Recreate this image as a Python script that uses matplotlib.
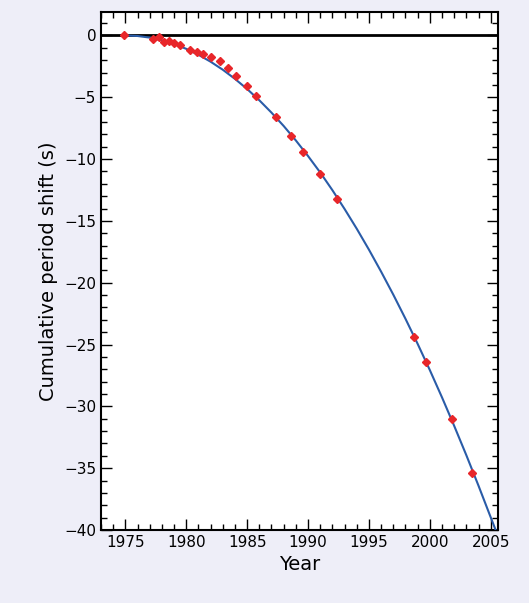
import matplotlib
matplotlib.use("Agg")
import matplotlib.pyplot as plt
from matplotlib.ticker import MultipleLocator

# observed points (year, cumulative shift s)
obs_year = [1974.9, 1977.3, 1977.8, 1978.2, 1978.6, 1979.0, 1979.5, 1980.3, 1980.9,
            1981.4, 1982.0, 1982.8, 1983.4, 1984.1, 1985.0, 1985.7, 1987.4, 1988.6,
            1989.6, 1991.0, 1992.4, 1998.7, 1999.7, 2001.8, 2003.5]
obs_shift = [0.05, -0.3, -0.1, -0.5, -0.45, -0.6, -0.75, -1.2, -1.35,
             -1.5, -1.7, -2.1, -2.6, -3.3, -4.1, -4.9, -6.6, -8.1,
             -9.4, -11.2, -13.2, -24.4, -26.4, -31.0, -35.4]

curve_year = list(range(1975, 2006)) + [2005.6]
curve_shift = [0.0, -0.04, -0.17, -0.39, -0.69, -1.08, -1.56, -2.12, -2.77,
               -3.51, -4.33, -5.24, -6.24, -7.32, -8.49, -9.75, -11.08, -12.51,
               -14.03, -15.63, -17.32, -19.10, -20.96, -22.91, -24.94, -27.06,
               -29.27, -31.57, -33.95, -36.42, -38.97, -40.5]

fig = plt.figure(figsize=(5.29, 6.03), dpi=100)
fig.patch.set_facecolor("#eeeef8")
ax = fig.add_axes([101 / 529, 1 - 530 / 603, 397 / 529, 518 / 603])
ax.set_facecolor("white")

ax.axhline(0, color="black", lw=2, zorder=2)
ax.plot(curve_year, curve_shift, color="#2a5ca8", lw=1.5, zorder=3)
ax.plot(obs_year, obs_shift, "D", color="#e8262a", ms=4, zorder=4)

ax.set_xlim(1973, 2005.6)
ax.set_ylim(-40, 1.9)
ax.xaxis.set_major_locator(MultipleLocator(5))
ax.xaxis.set_minor_locator(MultipleLocator(1))
ax.yaxis.set_major_locator(MultipleLocator(5))
ax.yaxis.set_minor_locator(MultipleLocator(1))
ax.tick_params(which="both", direction="in", top=True, right=True, labelsize=11)
ax.tick_params(which="major", length=8, width=1)
ax.tick_params(which="minor", length=4, width=1)
for s in ax.spines.values():
    s.set_linewidth(1.5)

ax.set_xlabel("Year", fontsize=14)
ax.set_ylabel("Cumulative period shift (s)", fontsize=14)

fig.savefig("out.png", dpi=100, facecolor=fig.get_facecolor())
